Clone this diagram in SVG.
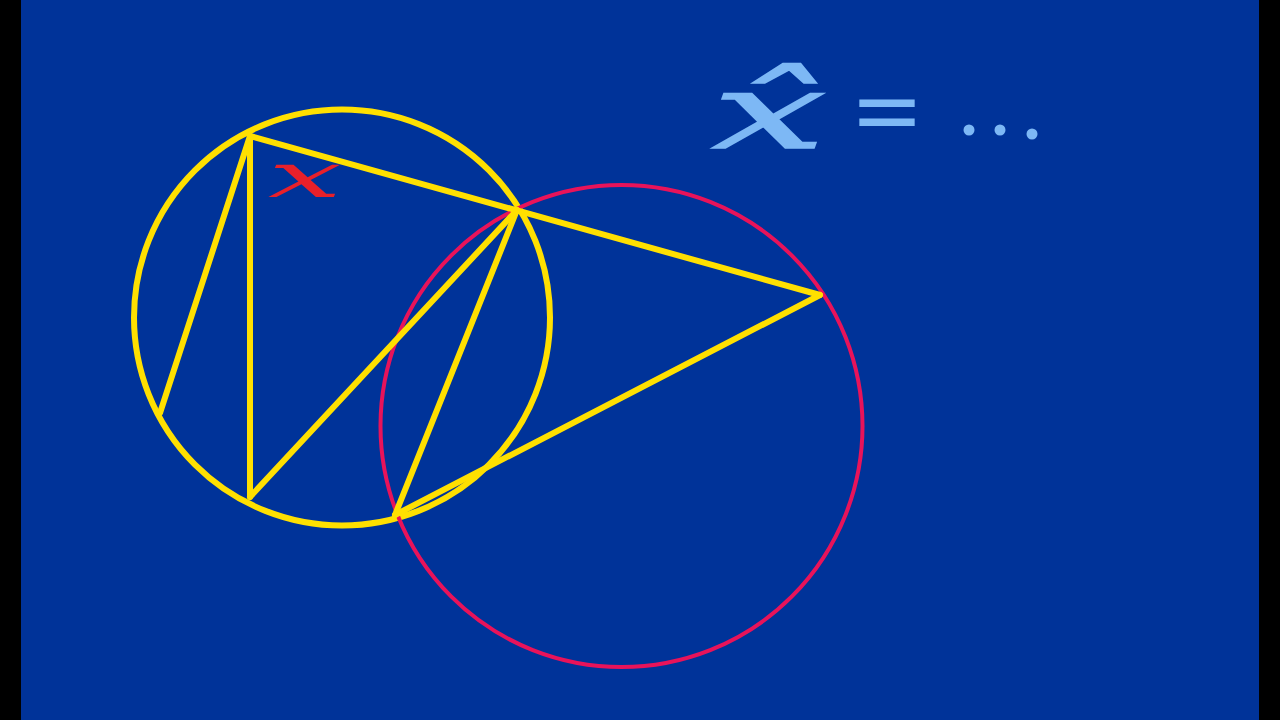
<svg xmlns="http://www.w3.org/2000/svg" width="1280" height="720" viewBox="0 0 1280 720">
<style>
.y{fill:none;stroke:#FFE000;stroke-width:6;stroke-linecap:round;stroke-linejoin:round}
.p{fill:none;stroke:#E8135A;stroke-width:4}
.hb{fill:#7DB8F5;font-family:"DejaVu Serif",serif}
</style>
<rect width="1280" height="720" fill="#000"/>
<rect x="21" y="0" width="1238" height="720" fill="#003399"/>
<g id="yellow-circle"><circle class="y" cx="342" cy="317.5" r="208" stroke-width="6.5"/></g>
<g id="pink-circle"><circle class="p" cx="621.5" cy="426" r="241"/></g>
<g id="connectors">
<line class="y" x1="250" y1="136" x2="160" y2="413"/>
<line class="y" x1="250" y1="136" x2="250" y2="497"/>
<line class="y" x1="250" y1="497" x2="517" y2="210"/>
<line class="y" x1="250" y1="136" x2="820" y2="295"/>
<line class="y" x1="517" y1="210" x2="395" y2="515"/>
<line class="y" x1="820" y1="295" x2="395" y2="515"/>
</g>
<g id="label-x"><text x="268" y="197" font-family="DejaVu Serif,serif" font-style="italic" font-size="62" fill="#E8202A" textLength="74" lengthAdjust="spacingAndGlyphs">x</text></g>
<g id="formula">
<text class="hb" x="712" y="148" font-size="104" font-style="italic" stroke="#7DB8F5" stroke-width="1.5" textLength="114" lengthAdjust="spacingAndGlyphs">x̂</text>
<text class="hb" x="850" y="143" font-size="96" textLength="74" lengthAdjust="spacingAndGlyphs">=</text>
<circle cx="969" cy="130" r="5.5" fill="#7DB8F5"/>
<circle cx="1000" cy="130" r="5.5" fill="#7DB8F5"/>
<circle cx="1032" cy="134" r="5.5" fill="#7DB8F5"/>
</g>
</svg>
